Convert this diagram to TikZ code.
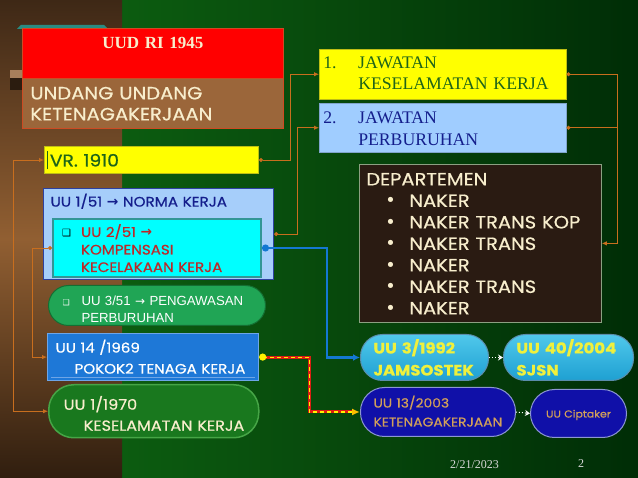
\documentclass[tikz,border=0pt]{standalone}
\usepackage{fontspec}
\setmainfont{Liberation Serif}
\newfontfamily\comic[FakeStretch=1.1,FakeBold=0.6]{Poppins}
\newfontfamily\arial{Liberation Sans}
\newfontfamily\djv{DejaVu Sans}
\usetikzlibrary{arrows.meta,calc}
\newcommand\myarr{{\djv\bfseries →}}
\newcommand\mychk{{\djv ❑}}
\definecolor{grnL}{RGB}{12,92,16}
\definecolor{grnR}{RGB}{0,45,6}
\definecolor{brnT}{RGB}{62,40,22}
\definecolor{brnM}{RGB}{145,95,50}
\definecolor{brnB}{RGB}{48,30,15}
\definecolor{cRed}{RGB}{255,0,0}
\definecolor{cBrown}{RGB}{155,102,58}
\definecolor{cBrownB}{RGB}{205,75,35}
\definecolor{cCream}{RGB}{248,238,205}
\definecolor{cYel}{RGB}{255,255,0}
\definecolor{cYelB}{RGB}{190,190,20}
\definecolor{cDkGrnT}{RGB}{30,100,25}
\definecolor{cLBlue}{RGB}{166,206,250}
\definecolor{cLBlueB}{RGB}{45,65,160}
\definecolor{cNavyT}{RGB}{20,30,140}
\definecolor{cCyan}{RGB}{0,255,255}
\definecolor{cCyanB}{RGB}{50,150,150}
\definecolor{cCyanT}{RGB}{190,40,40}
\definecolor{cGrnPill}{RGB}{32,165,85}
\definecolor{cGrnPillB}{RGB}{20,110,50}
\definecolor{cBlueBox}{RGB}{30,120,215}
\definecolor{cBlueBoxB}{RGB}{110,165,230}
\definecolor{cDGrn}{RGB}{25,120,30}
\definecolor{cDGrnB}{RGB}{70,165,70}
\definecolor{cJaw}{RGB}{160,205,255}
\definecolor{cDept}{RGB}{42,27,18}
\definecolor{cDeptB}{RGB}{140,160,130}
\definecolor{cJamT}{RGB}{80,200,235}
\definecolor{cJamBt}{RGB}{30,160,210}
\definecolor{cJamB}{RGB}{90,140,170}
\definecolor{cJamTx}{RGB}{240,240,60}
\definecolor{cNavy}{RGB}{16,16,168}
\definecolor{cNavyB}{RGB}{140,150,210}
\definecolor{cTan}{RGB}{210,160,90}
\definecolor{cOrg}{RGB}{200,110,30}
\definecolor{cBlueC}{RGB}{20,120,210}
\definecolor{cTeal}{RGB}{40,140,130}
\definecolor{cFoot}{RGB}{215,215,215}
\tikzset{
  box/.style={rectangle, anchor=north west, inner ysep=0pt, align=left},
  pill/.style={box, rounded corners=#1},
  conn/.style={draw=cOrg, line width=0.9pt},
}
\begin{document}
\begin{tikzpicture}[x=1pt,y=-1pt]
\useasboundingbox (0,0) rectangle (638,478);
% background
\shade[left color=grnL, right color=grnR] (122,0) rectangle (638,478);
\shade[top color=brnT, bottom color=brnB, middle color=brnM] (0,0) rectangle (122,478);
\fill[cTeal] (17,29) -- (21,25) -- (104,25) -- (108,29) -- cycle;
\fill[brnM!80!white] (10,70) rectangle (22,78);
\fill[brnT!70!black] (10,78) rectangle (22,90);

% title boxes
\node[box, fill=cRed, draw=cBrownB, line width=0.6pt, minimum width=261pt, text width=251pt, inner xsep=5pt,
  text height=20pt, text depth=30pt, align=center, text=cCream,
  font=\bfseries\fontsize{17}{20}\selectfont] (uud) at (22,28) {UUD RI 1945};
\node[box, fill=cBrown, draw=cBrownB, line width=0.8pt, minimum width=261pt, text width=245pt, inner xsep=8pt,
  text height=21pt, text depth=29pt, text=cCream,
  font=\comic\fontsize{17.8}{21}\selectfont] (uuk) at (22,78) {UNDANG UNDANG\\KETENAGAKERJAAN};

\node[box, fill=cYel, draw=cYelB, line width=1pt, minimum width=214pt, text width=210pt, inner xsep=2pt,
  text height=20pt, text depth=7pt, text=cDkGrnT,
  font=\comic\fontsize{17}{19}\selectfont] (vr) at (44,146) {\rule[-3pt]{0.9pt}{18pt}\hspace{2.5pt}VR. 1910};

\node[box, fill=cLBlue, draw=cLBlueB, line width=1.2pt, minimum width=230pt, text width=216pt, inner xsep=7pt,
  text height=18pt, text depth=73pt, text=cNavyT,
  font=\comic\fontsize{13.8}{18}\selectfont] (uu151) at (43,188) {UU 1/51 \myarr\ NORMA KERJA};

\node[box, fill=cCyan, draw=cCyanB, line width=2pt, minimum width=208pt, text width=190pt, inner xsep=9pt,
  text height=18pt, text depth=40pt, text=cCyanT,
  font=\comic\fontsize{13.7}{17.5}\selectfont] (uu251) at (52,218)
  {\makebox[19pt][l]{\textcolor{black}{\fontsize{10}{10}\selectfont\mychk}}UU 2/51 \myarr\\\hspace*{19pt}KOMPENSASI\\\hspace*{19pt}KECELAKAAN KERJA};

\node[pill=20pt, fill=cGrnPill, draw=cGrnPillB, line width=1pt, minimum width=217pt, text width=189pt, inner xsep=14pt,
  text height=20pt, text depth=20pt, text=white,
  font=\arial\fontsize{13.2}{17}\selectfont] (uu351) at (48,285)
  {\makebox[19pt][l]{\fontsize{8}{8}\selectfont\mychk}UU 3/51 {\djv\fontsize{12}{12}\selectfont →} PENGAWASAN\\\hspace*{19pt}PERBURUHAN};

\node[box, fill=cBlueBox, draw=cBlueBoxB, line width=1.2pt, minimum width=211pt, text width=195pt, inner xsep=8pt,
  text height=19pt, text depth=28pt, text=white,
  font=\comic\fontsize{13.7}{21}\selectfont] (uu14) at (47,333)
  {UU 14 /1969\\\hspace*{19pt}POKOK2 TENAGA KERJA};
\draw[cBlueBoxB, line width=1pt] ($(uu14.south west)+(4,-4)$) -- ($(uu14.south east)+(-4,-4)$);

\node[pill=25pt, fill=cDGrn, draw=cDGrnB, line width=1.5pt, minimum width=210pt, text width=180pt, inner xsep=15pt,
  text height=25pt, text depth=28pt, text=cCream,
  font=\comic\fontsize{14.6}{21}\selectfont] (uu1970) at (48,384)
  {UU 1/1970\\\hspace*{20pt}\mbox{KESELAMATAN KERJA}};

% right column
\node[box, fill=cYel, draw=cYelB, line width=0.5pt, minimum width=247pt, text width=239pt, inner xsep=4pt,
  text height=19pt, text depth=31pt, text=cDkGrnT,
  font=\fontsize{17.7}{21}\selectfont] (jaw1) at (319,49)
  {\makebox[35pt][l]{1.}JAWATAN\\\hspace*{35pt}KESELAMATAN KERJA};
\node[box, fill=cJaw, draw=cJaw!80!black, line width=0.5pt, minimum width=247pt, text width=239pt, inner xsep=4pt,
  text height=20pt, text depth=29pt, text=cNavyT,
  font=\fontsize{17.7}{22}\selectfont] (jaw2) at (319,103)
  {\makebox[35pt][l]{2.}JAWATAN\\\hspace*{35pt}PERBURUHAN};

\node[box, fill=cDept, draw=cDeptB, line width=0.8pt, minimum width=242pt, text width=228pt, inner xsep=7pt,
  text height=21pt, text depth=137pt, text=cCream,
  font=\comic\fontsize{17.7}{21.5}\selectfont] (dept) at (359,164)
  {DEPARTEMEN\\
   \hspace*{19pt}\makebox[24pt][l]{\djv •}NAKER\\
   \hspace*{19pt}\makebox[24pt][l]{\djv •}NAKER TRANS KOP\\
   \hspace*{19pt}\makebox[24pt][l]{\djv •}NAKER TRANS\\
   \hspace*{19pt}\makebox[24pt][l]{\djv •}NAKER\\
   \hspace*{19pt}\makebox[24pt][l]{\djv •}NAKER TRANS\\
   \hspace*{19pt}\makebox[24pt][l]{\djv •}NAKER};

\node[pill=22pt, top color=cJamT, bottom color=cJamBt, draw=cJamB, line width=1pt, minimum width=128pt, text width=102pt, inner xsep=13pt,
  text height=19pt, text depth=27pt, text=cJamTx,
  font=\comic\bfseries\fontsize{15}{22}\selectfont] (jams) at (360,334)
  {UU 3/1992\\JAMSOSTEK};
\node[pill=22pt, top color=cJamT, bottom color=cJamBt, draw=cJamB, line width=1pt, minimum width=130pt, text width=104pt, inner xsep=13pt,
  text height=19pt, text depth=27pt, text=cJamTx,
  font=\comic\bfseries\fontsize{15}{22}\selectfont] (sjsn) at (503,334)
  {UU 40/2004\\SJSN};

\node[pill=24pt, fill=cNavy, draw=cNavyB, line width=1pt, minimum width=155pt, text width=129pt, inner xsep=13pt,
  text height=20pt, text depth=29pt, text=cTan,
  font=\comic\fontsize{12.6}{19}\selectfont] (uu13) at (360,387)
  {UU 13/2003\\KETENAGAKERJAAN};
\node[pill=24pt, fill=cNavy, draw=cNavyB, line width=1pt, minimum width=96pt, text width=86pt, inner xsep=5pt,
  text height=28pt, text depth=20pt, text=cTan, align=center,
  font=\comic\fontsize{10}{12}\selectfont] (cipta) at (530,389)
  {UU Ciptaker};

% footer
\node[anchor=base west, inner sep=0pt, text=cFoot, font=\fontsize{12}{14}\selectfont] (date) at (450,469) {2/21/2023};
\node[anchor=base west, inner sep=0pt, text=cFoot, font=\fontsize{12}{14}\selectfont] (pg) at (578,468) {2};

% connectors
\draw[conn, {Circle[length=4pt]}-{Latex[length=5pt,width=4.5pt]}] (vr.east) -- ++(31,0) |- (jaw1.west);
\draw[conn, {Circle[length=4pt]}-{Latex[length=5pt,width=4.5pt]}] (uu151.east) -- ++(23,0) |- (jaw2.west);
\draw[conn, {Circle[length=4pt]}-{Latex[length=5pt,width=4.5pt]}] (jaw1.east) -- ++(51,0) |- (dept.east);
\draw[conn, {Circle[length=4pt]}-] (jaw2.east) -- ++(51,0);
\draw[conn, {Latex[length=5pt,width=4.5pt]}-{Latex[length=5pt,width=4.5pt]}] (vr.west) -- ++(-31,0) |- (uu1970.west);
\draw[conn, {Circle[length=4pt]}-{Latex[length=5pt,width=4.5pt]}] (uu251.west) -- ++(-20,0) |- (uu14.west);
\draw[draw=cBlueC, line width=2.2pt, {Circle[length=7pt]}-{Latex[length=7pt,width=7pt]}] (uu251.east) -- ++(65,0) |- (jams.west);
\draw[draw={rgb,255:red,220;green,30;blue,20}, line width=3pt, {Circle[length=7pt,color=yellow]}-{Latex[length=8pt,width=7pt,color={rgb,255:red,255;green,190;blue,0}]}] (uu14.east) -- ++(50,0) |- (uu13.west);
\draw[draw=yellow, line width=1.1pt, dash pattern=on 4pt off 3pt, shorten >=8pt, shorten <=4pt] (uu14.east) -- ++(50,0) |- (uu13.west);
\draw[white, line width=1pt, dotted, -{Stealth[length=5pt,width=6pt]}] (jams.east) -- (sjsn.west);
\draw[white, line width=1pt, dotted, -{Stealth[length=5pt,width=6pt]}] (uu13.east) -- (cipta.west);
\end{tikzpicture}
\end{document}
